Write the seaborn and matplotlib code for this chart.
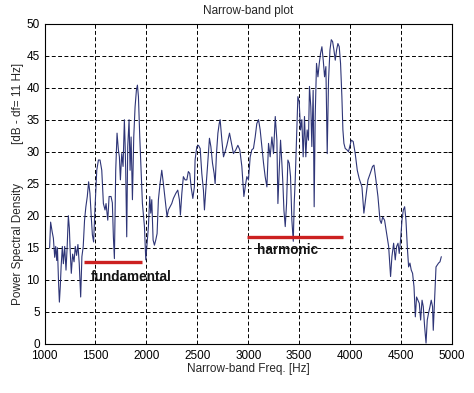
import numpy as np
import pandas as pd
import matplotlib
matplotlib.use("Agg")
import matplotlib.pyplot as plt
import seaborn as sns

# narrow-band spectrum (df = 11 Hz analysis)
freq_hz = [
    1050, 1060, 1075, 1087, 1100, 1110, 1120, 1127, 1138, 1146, 1155, 1163,
    1175, 1185, 1198, 1211, 1222, 1234, 1244, 1252, 1263, 1276, 1290, 1302,
    1315, 1328, 1341, 1355, 1367, 1380, 1393, 1406, 1420, 1433, 1446, 1459,
    1470, 1482, 1495,
    1513, 1529, 1545, 1562, 1578, 1594, 1604, 1621, 1634, 1653, 1666, 1676,
    1686, 1699, 1712, 1725, 1735, 1745, 1758, 1771, 1784, 1791, 1797, 1807,
    1817, 1830, 1840, 1850, 1863, 1876, 1889, 1902, 1912, 1922, 1935, 1948,
    1961, 1981, 1994,
    2007, 2020, 2033, 2043, 2053, 2066, 2079, 2092, 2105, 2118, 2134, 2151,
    2167, 2184, 2203, 2216, 2233, 2249, 2265, 2289, 2308, 2324, 2334, 2348,
    2363, 2380, 2397, 2412, 2426, 2439, 2456, 2471, 2478, 2495,
    2511, 2528, 2544, 2560, 2570, 2583, 2600, 2619, 2633, 2649, 2665, 2675,
    2688, 2702, 2715, 2724, 2741, 2757, 2773, 2790, 2816, 2836, 2855, 2878,
    2898, 2917, 2937, 2957, 2970,
    2986, 3002, 3019, 3035, 3051, 3068, 3084, 3101, 3117, 3133, 3150, 3166,
    3183, 3199, 3215, 3232, 3248, 3265, 3281, 3291, 3304, 3317, 3330, 3340,
    3350, 3363, 3376, 3389, 3402, 3415, 3428, 3442, 3451, 3461, 3477, 3487,
    3500,
    3513, 3526, 3539, 3552, 3565, 3578, 3591, 3601, 3614, 3624, 3637, 3647,
    3657, 3670, 3684, 3697, 3710, 3723, 3736, 3749, 3762, 3775, 3788, 3802,
    3815, 3828, 3841, 3854, 3867, 3880, 3893, 3906, 3919, 3929, 3939, 3952,
    3968, 3984,
    4011, 4030, 4050, 4070, 4089, 4116, 4135, 4155, 4175, 4197, 4220, 4234,
    4253, 4273, 4293, 4306, 4319, 4338, 4358, 4378, 4397, 4410, 4427, 4443,
    4456, 4470, 4482, 4495, 4509, 4522, 4535, 4548, 4561, 4574, 4587, 4600,
    4613, 4627, 4640, 4652, 4666, 4679, 4692, 4706, 4718, 4731, 4745, 4757,
    4770, 4784, 4796, 4809, 4816, 4829, 4843, 4856, 4868, 4882, 4895,
]
psd_db = [
    15.0, 19.0, 17.5, 16.5, 13.5, 15.2, 13.0, 15.0, 9.5, 6.5, 9.0, 12.0,
    15.2, 12.5, 15.2, 11.5, 15.0, 20.0, 18.0, 14.5, 11.0, 14.0, 12.8, 15.2,
    13.8, 15.5, 12.5, 7.3, 13.6, 15.2, 19.3, 21.4, 23.0, 25.3, 23.5, 19.8,
    17.0, 15.9, 21.0,
    27.1, 28.7, 28.7, 27.1, 21.9, 20.9, 21.9, 19.3, 23.0, 23.0, 22.0, 16.7,
    13.3, 27.1, 32.9, 30.3, 29.2, 25.6, 29.7, 27.7, 35.0, 31.3, 27.1, 16.7,
    30.8, 35.0, 27.1, 32.3, 22.5, 32.3, 37.0, 39.6, 40.4, 38.6, 32.3, 27.1,
    21.9, 18.3, 13.1,
    15.7, 18.3, 23.0, 20.4, 22.5, 16.2, 15.4, 16.2, 17.2, 22.5, 25.0, 27.1,
    25.0, 22.5, 19.8, 20.9, 21.4, 21.9, 22.7, 23.5, 24.0, 22.5, 20.1, 23.5,
    26.1, 25.6, 25.6, 26.9, 26.6, 24.5, 22.7, 24.5, 28.7, 30.8,
    31.0, 30.5, 26.6, 24.0, 20.9, 24.0, 27.7, 32.1, 30.8, 28.2, 26.6, 25.0,
    29.7, 32.9, 34.4, 35.0, 31.8, 29.2, 30.0, 31.0, 32.9, 31.3, 29.7, 30.3,
    31.0, 30.3, 27.7, 23.0, 24.5,
    26.1, 25.6, 29.2, 30.3, 30.5, 32.3, 34.4, 35.0, 33.4, 30.8, 28.2, 26.1,
    24.5, 31.3, 29.2, 32.3, 29.7, 35.5, 31.8, 21.9, 27.1, 31.8, 28.2, 25.0,
    20.9, 18.3, 21.9, 28.7, 28.2, 26.1, 19.3, 16.0, 21.9, 25.6, 33.4, 38.6,
    37.8,
    33.4, 35.0, 29.2, 35.5, 29.2, 33.4, 31.8, 40.2, 37.0, 30.8, 39.6, 21.4,
    35.5, 43.8, 41.7, 43.8, 45.4, 46.4, 44.3, 41.7, 43.3, 29.7, 41.2, 45.9,
    47.5, 47.2, 45.9, 44.3, 45.9, 46.9, 46.4, 43.8, 38.6, 33.4, 31.3, 30.5,
    30.3, 30.0,
    31.8, 31.6, 29.7, 27.1, 25.8, 24.5, 20.4, 23.0, 25.6, 26.6, 27.7, 27.9,
    25.6, 23.0, 19.3, 18.8, 19.8, 19.3, 17.2, 15.2, 10.5, 13.6, 15.7, 13.1,
    15.2, 15.7, 14.1, 16.2, 19.3, 20.9, 21.4, 19.3, 15.2, 12.0, 12.6, 11.5,
    11.0, 8.9, 4.2, 7.3, 6.8, 6.3, 3.7, 6.8, 5.8, 2.7, 0.1, 3.7,
    4.8, 5.8, 6.8, 5.8, 2.1, 6.8, 12.0, 12.3, 12.6, 12.8, 13.6,
]

# marked bands
fund_band = [1390, 1960]
fund_level = 12.7
harm_band = [2990, 3930]
harm_level = 16.6

x_ticks = [1000, 1500, 2000, 2500, 3000, 3500, 4000, 4500, 5000]
y_ticks = [0, 5, 10, 15, 20, 25, 30, 35, 40, 45, 50]

line_blue = "#2e3577"
band_red = "#cc2020"

sns.set_style("white")
plt.rcParams['font.family'] = ['Liberation Sans', 'DejaVu Sans']

df = pd.DataFrame({'freq': freq_hz, 'psd': psd_db})

fig = plt.figure(figsize=(4.74, 3.93), dpi=100)
ax = fig.add_axes([0.0939, 0.1254, 0.8597, 0.8143])

sns.lineplot(data=df, x='freq', y='psd', ax=ax, color=line_blue,
             linewidth=0.8, sort=False)

ax.hlines(fund_level, fund_band[0], fund_band[1], color=band_red,
          linewidth=2.4, zorder=4)
ax.hlines(harm_level, harm_band[0], harm_band[1], color=band_red,
          linewidth=2.4, zorder=4)
ax.text(1455, 10.5, 'fundamental', fontsize=9.8, fontweight='bold',
        va='center', ha='left', color='#151515')
ax.text(3085, 14.6, 'harmonic', fontsize=9.8, fontweight='bold',
        va='center', ha='left', color='#151515')

ax.set_xlim(1000, 5000)
ax.set_ylim(0, 50)
ax.set_xticks(x_ticks)
ax.set_yticks(y_ticks)
ax.grid(True, color='black', linestyle=(0, (4.0, 2.5)), linewidth=0.7)
ax.set_axisbelow(True)
for sp in ax.spines.values():
    sp.set_color('black')
    sp.set_linewidth(0.8)
ax.tick_params(direction='in', length=3, width=0.7, labelsize=8.5,
               top=True, right=True, colors='black', pad=3.5)
ax.tick_params(axis='x', pad=4.5)

ax.set_title('Narrow-band plot', fontsize=8.5, pad=7)
ax.set_xlabel('Narrow-band Freq. [Hz]', fontsize=8.5, labelpad=1)
ax.set_ylabel('Power Spectral Density            [dB - df= 11 Hz]',
              fontsize=8.5, labelpad=2)

fig.savefig('out.png', dpi=100)
